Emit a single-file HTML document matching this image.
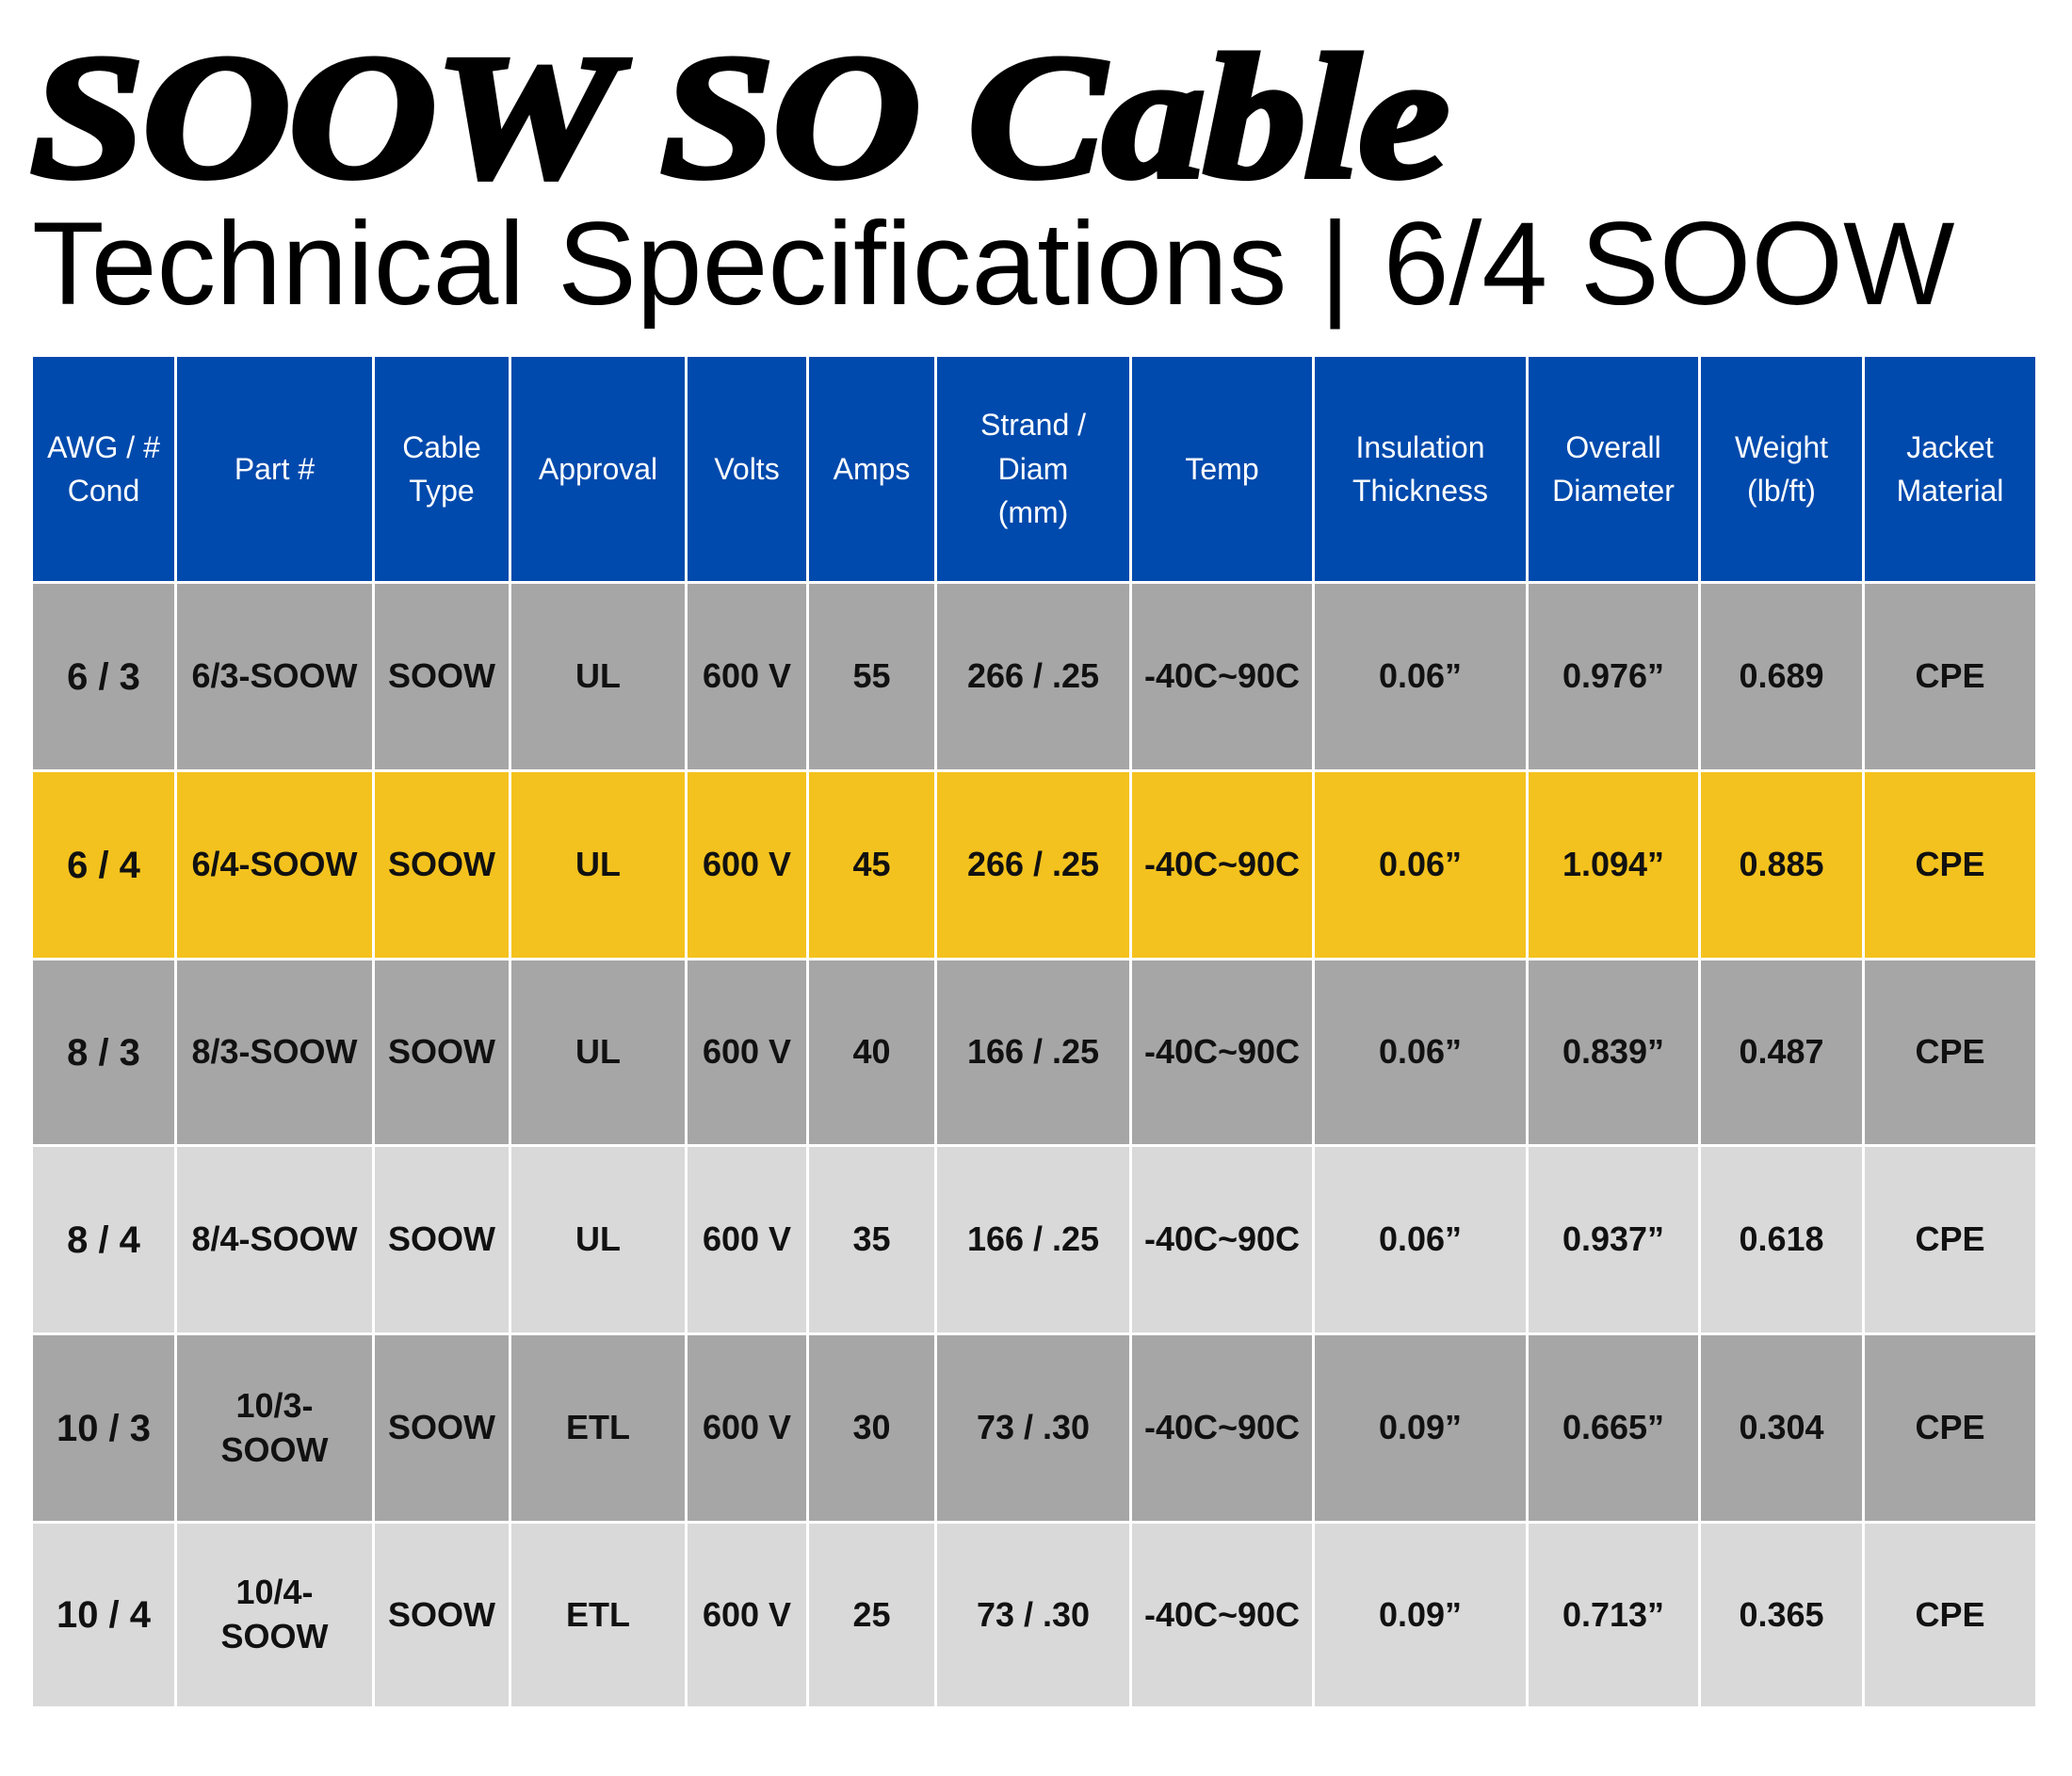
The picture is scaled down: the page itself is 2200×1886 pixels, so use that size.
<!DOCTYPE html>
<html><head><meta charset="utf-8"><style>
body{margin:0;width:2200px;height:1886px;background:#fff;position:relative;overflow:hidden;font-family:"Liberation Sans",sans-serif}
.t1{position:absolute;left:32px;top:30px;font-family:"Liberation Serif",serif;font-weight:bold;font-style:italic;font-size:188px;line-height:1;white-space:nowrap;transform-origin:0 0;transform:scaleX(1.16);letter-spacing:-2px;-webkit-text-stroke:6px #000}
.t2{position:absolute;left:34px;top:217px;font-size:125.5px;line-height:1;white-space:nowrap;letter-spacing:0px}
.g{position:absolute;left:35px;top:379px;display:grid;grid-template-columns:153px 210px 145px 187px 129px 136px 207px 194px 227px 183px 174px 184px;grid-template-rows:241px 200px 200px 198px 200px 200px 197px}
.g div{border-right:3px solid #fff;border-bottom:3px solid #fff;display:flex;align-items:center;justify-content:center;text-align:center;font-weight:bold;font-size:36px;color:#111;line-height:1.3}
.g .h{background:#004AAD;color:#fff;font-weight:normal;font-size:32px;line-height:1.45}
.d{background:#A6A6A6}.y{background:#F4C21E}.l{background:#D9D9D9}
.g div.f{font-size:40px}
</style></head><body>
<div class="t1">SOOW SO Cable</div>
<div class="t2">Technical Specifications | 6/4 SOOW</div>
<div class="g">
<div class="h">AWG / #<br>Cond</div><div class="h">Part #</div><div class="h">Cable<br>Type</div><div class="h">Approval</div><div class="h">Volts</div><div class="h">Amps</div><div class="h">Strand /<br>Diam<br>(mm)</div><div class="h">Temp</div><div class="h">Insulation<br>Thickness</div><div class="h">Overall<br>Diameter</div><div class="h">Weight<br>(lb/ft)</div><div class="h">Jacket<br>Material</div>

<div class="d f">6 / 3</div><div class="d">6/3-SOOW</div><div class="d">SOOW</div><div class="d">UL</div><div class="d">600 V</div><div class="d">55</div><div class="d">266 / .25</div><div class="d">-40C~90C</div><div class="d">0.06”</div><div class="d">0.976”</div><div class="d">0.689</div><div class="d">CPE</div>

<div class="y f">6 / 4</div><div class="y">6/4-SOOW</div><div class="y">SOOW</div><div class="y">UL</div><div class="y">600 V</div><div class="y">45</div><div class="y">266 / .25</div><div class="y">-40C~90C</div><div class="y">0.06”</div><div class="y">1.094”</div><div class="y">0.885</div><div class="y">CPE</div>

<div class="d f">8 / 3</div><div class="d">8/3-SOOW</div><div class="d">SOOW</div><div class="d">UL</div><div class="d">600 V</div><div class="d">40</div><div class="d">166 / .25</div><div class="d">-40C~90C</div><div class="d">0.06”</div><div class="d">0.839”</div><div class="d">0.487</div><div class="d">CPE</div>

<div class="l f">8 / 4</div><div class="l">8/4-SOOW</div><div class="l">SOOW</div><div class="l">UL</div><div class="l">600 V</div><div class="l">35</div><div class="l">166 / .25</div><div class="l">-40C~90C</div><div class="l">0.06”</div><div class="l">0.937”</div><div class="l">0.618</div><div class="l">CPE</div>

<div class="d f">10 / 3</div><div class="d">10/3-<br>SOOW</div><div class="d">SOOW</div><div class="d">ETL</div><div class="d">600 V</div><div class="d">30</div><div class="d">73 / .30</div><div class="d">-40C~90C</div><div class="d">0.09”</div><div class="d">0.665”</div><div class="d">0.304</div><div class="d">CPE</div>

<div class="l f">10 / 4</div><div class="l">10/4-<br>SOOW</div><div class="l">SOOW</div><div class="l">ETL</div><div class="l">600 V</div><div class="l">25</div><div class="l">73 / .30</div><div class="l">-40C~90C</div><div class="l">0.09”</div><div class="l">0.713”</div><div class="l">0.365</div><div class="l">CPE</div>
</div>
</body></html>
